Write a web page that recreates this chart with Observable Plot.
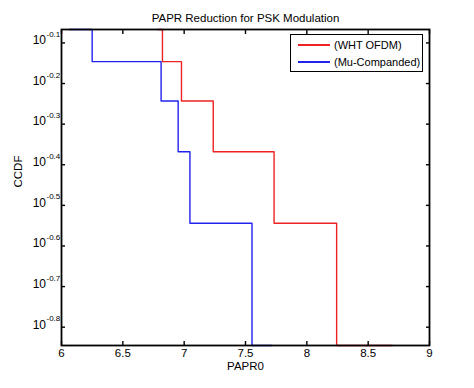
<!DOCTYPE html>
<html>
<head>
<meta charset="utf-8">
<script src="https://cdn.jsdelivr.net/npm/d3@7"></script>
<script src="https://cdn.jsdelivr.net/npm/@observablehq/plot@0.6"></script>
<style>
  html, body { margin: 0; padding: 0; background: #fff; }
  #wrap { position: relative; width: 474px; height: 388px; font-family: "Liberation Sans", Arial, sans-serif; }
  #legend { position: absolute; left: 290px; top: 34px; width: 131px; height: 36px; border: 1.6px solid #000; background: #fff; font-size: 11px; color: #000; }
  .row { position: absolute; left: 0; height: 14px; display: flex; align-items: center; white-space: nowrap; }
  .sw { display: inline-block; flex: none; width: 32px; height: 1.4px; margin-left: 7px; margin-right: 4px; }
</style>
</head>
<body>
<div id="wrap"></div>
<script>
// Step data (CCDF with 7 samples)
const redX = [6.785, 6.823, 6.978, 7.237, 7.733, 8.243, 8.695];
const redCCDF = [6/7, 5/7, 4/7, 3/7, 2/7, 1/7, 1/7];
const blueX = [6.065, 6.25, 6.812, 6.951, 7.047, 7.553, 7.715];
const blueCCDF = [6/7, 5/7, 4/7, 3/7, 2/7, 1/7, 1/7];

const seriesNames = ["(WHT OFDM)", "(Mu-Companded)"];
const seriesColors = ["#ee2222", "#2222ee"];

const xTicks = [6, 6.5, 7, 7.5, 8, 8.5, 9];
const yTickExponents = [-0.1, -0.2, -0.3, -0.4, -0.5, -0.6, -0.7, -0.8];
const yTickLabels = ["-0.1", "-0.2", "-0.3", "-0.4", "-0.5", "-0.6", "-0.7", "-0.8"];

const titleText = "PAPR Reduction for PSK Modulation";
const xLabel = "PAPR0";
const yLabel = "CCDF";

const yTicks = yTickExponents.map(e => Math.pow(10, e));
const red = redX.map((x, i) => ({x, y: redCCDF[i]}));
const blue = blueX.map((x, i) => ({x, y: blueCCDF[i]}));
const tickRows = yTicks.map((v, i) => ({v, exp: yTickLabels[i]}));
const noLabel = () => "";

const chart = Plot.plot({
  width: 474,
  height: 388,
  marginLeft: 61,
  marginRight: 45,
  marginTop: 29,
  marginBottom: 43,
  style: {fontFamily: "Liberation Sans, Arial, sans-serif", fontSize: "11px", color: "#000", background: "#fff"},
  x: {domain: [6, 9]},
  y: {type: "log", domain: [1/7, 6/7]},
  marks: [
    Plot.line(red, {x: "x", y: "y", curve: "step-after", stroke: seriesColors[0], strokeWidth: 1.4}),
    Plot.line(blue, {x: "x", y: "y", curve: "step-after", stroke: seriesColors[1], strokeWidth: 1.4}),
    Plot.frame({stroke: "#000", strokeWidth: 1.8}),
    Plot.axisX(xTicks, {anchor: "bottom", tickSize: 4, dy: -4, strokeWidth: 1.4, tickFormat: noLabel, label: null}),
    Plot.axisX(xTicks, {anchor: "top", tickSize: 4, dy: 4, strokeWidth: 1.4, tickFormat: noLabel, label: null}),
    Plot.axisY(yTicks, {anchor: "left", tickSize: 4, dx: 4, strokeWidth: 1.4, tickFormat: noLabel, label: null}),
    Plot.axisY(yTicks, {anchor: "right", tickSize: 4, dx: -4, strokeWidth: 1.4, tickFormat: noLabel, label: null}),
    Plot.axisX(xTicks, {anchor: "bottom", tickSize: 0, tickPadding: 3, fontSize: 11.5, tickFormat: d => String(d), label: null}),
    Plot.text(tickRows, {y: "v", frameAnchor: "left", text: () => "10", textAnchor: "end", dx: -15.5, dy: -2.5, fontSize: 12}),
    Plot.text(tickRows, {y: "v", frameAnchor: "left", text: "exp", textAnchor: "start", dx: -15, dy: -8.5, fontSize: 8}),
    Plot.text([titleText], {frameAnchor: "top", dy: -16, fontSize: 11.5}),
    Plot.text([xLabel], {frameAnchor: "bottom", dy: 24, fontSize: 11.5}),
    Plot.text([yLabel], {frameAnchor: "left", dx: -43, rotate: -90, fontSize: 11.5})
  ]
});

const wrap = document.getElementById("wrap");
wrap.appendChild(chart);

const legend = document.createElement("div");
legend.id = "legend";
seriesNames.forEach((name, i) => {
  const row = document.createElement("div");
  row.className = "row";
  row.style.top = (3 + i * 17) + "px";
  const sw = document.createElement("span");
  sw.className = "sw";
  sw.style.background = seriesColors[i];
  const t = document.createElement("span");
  t.textContent = name;
  row.appendChild(sw);
  row.appendChild(t);
  legend.appendChild(row);
});
wrap.appendChild(legend);
</script>
</body>
</html>
